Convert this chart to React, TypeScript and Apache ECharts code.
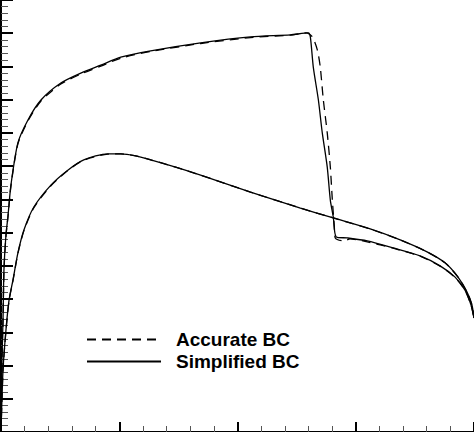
import { useEffect, useRef } from 'react';
import * as echarts from 'echarts';

const seriesNames = ['Accurate BC', 'Simplified BC'];

// upper branch, simplified BC (x, y)
const simplifiedUpper: [number, number][] = [
  [0, 0], [0.008, 2.17], [0.017, 3.37], [0.025, 4.88], [0.042, 5.93],
  [0.059, 6.5], [0.084, 7.43], [0.143, 8.7], [0.228, 9.39], [0.338, 9.99],
  [0.506, 10.5], [0.675, 10.8], [0.844, 11.04], [1.013, 11.28], [1.266, 11.47],
  [1.688, 11.71], [2.11, 11.89], [2.447, 11.95], [2.599, 12.01], [2.616, 11.89],
  [2.641, 10.98], [2.684, 9.99], [2.717, 9.0], [2.759, 7.97], [2.785, 6.98],
  [2.81, 6.47], [2.835, 5.87], [2.928, 5.84], [3.097, 5.75], [3.316, 5.54],
  [3.544, 5.3], [3.713, 5.0], [3.84, 4.66], [3.924, 4.27], [3.975, 3.82], [4.0, 3.43],
];

// upper branch, accurate BC
const accurateUpper: [number, number][] = [
  [0, 0], [0.008, 2.15], [0.017, 3.35], [0.025, 4.85], [0.042, 5.9],
  [0.059, 6.47], [0.084, 7.4], [0.143, 8.67], [0.228, 9.36], [0.338, 9.96],
  [0.506, 10.47], [0.675, 10.77], [0.844, 11.01], [1.013, 11.25], [1.266, 11.45],
  [1.688, 11.69], [2.11, 11.87], [2.447, 11.94], [2.582, 12.01], [2.633, 11.89],
  [2.675, 11.5], [2.7, 10.98], [2.726, 9.99], [2.759, 9.0], [2.785, 7.97],
  [2.802, 6.98], [2.819, 6.17], [2.827, 5.84], [2.895, 5.75], [2.954, 5.81],
  [3.097, 5.72], [3.316, 5.53], [3.544, 5.29], [3.713, 4.99], [3.84, 4.65],
  [3.924, 4.26], [3.975, 3.82], [4.0, 3.43],
];

// lower branch, simplified BC
const simplifiedLower: [number, number][] = [
  [0, 0], [0.017, 1.87], [0.042, 3.07], [0.068, 3.97], [0.101, 4.57],
  [0.143, 5.39], [0.194, 6.08], [0.278, 6.77], [0.422, 7.43], [0.565, 7.88],
  [0.7, 8.19], [0.903, 8.37], [1.013, 8.37], [1.139, 8.31], [1.266, 8.19],
  [1.477, 7.97], [1.688, 7.73], [2.11, 7.22], [2.532, 6.74], [2.81, 6.44],
  [3.122, 6.11], [3.376, 5.78], [3.603, 5.42], [3.755, 5.09], [3.865, 4.66],
  [3.941, 4.21], [3.983, 3.82], [4.0, 3.43],
];

// lower branch, accurate BC
const accurateLower: [number, number][] = [
  [0, 0], [0.017, 1.85], [0.042, 3.05], [0.068, 3.95], [0.101, 4.55],
  [0.143, 5.37], [0.194, 6.06], [0.278, 6.75], [0.422, 7.41], [0.565, 7.87],
  [0.7, 8.18], [0.903, 8.36], [1.013, 8.37], [1.139, 8.31], [1.266, 8.19],
  [1.477, 7.97], [1.688, 7.73], [2.11, 7.22], [2.532, 6.74], [2.81, 6.44],
  [3.122, 6.11], [3.376, 5.78], [3.603, 5.42], [3.755, 5.09], [3.865, 4.66],
  [3.941, 4.21], [3.983, 3.82], [4.0, 3.43],
];

const dashedStyle = { color: '#000', width: 1.3, type: [9, 6] as number[] };
const solidStyle = { color: '#000', width: 1.3, type: 'solid' };

export default function App() {
  const chartRef = useRef<HTMLDivElement>(null);

  useEffect(() => {
    if (!chartRef.current) return;
    const chart = echarts.init(chartRef.current, undefined, { renderer: 'svg' });

    const axisCommon = {
      type: 'value',
      axisLabel: { show: false },
      splitLine: { show: false },
      axisLine: { show: true, onZero: false, lineStyle: { color: '#000', width: 2 } },
    };

    chart.setOption({
      animation: false,
      backgroundColor: '#fff',
      grid: { left: 1, right: 0, top: 0, bottom: 0 },
      xAxis: {
        ...axisCommon,
        min: 0,
        max: 4,
        interval: 1,
        axisTick: { show: true, inside: true, length: 10, lineStyle: { color: '#000', width: 2 } },
        minorTick: { show: true, splitNumber: 5, length: 6, lineStyle: { color: '#555', width: 1 } },
      },
      yAxis: {
        ...axisCommon,
        min: 0,
        max: 13,
        interval: 1,
        axisTick: { show: true, inside: true, length: 12, lineStyle: { color: '#000', width: 2 } },
        minorTick: { show: true, splitNumber: 5, length: 7, lineStyle: { color: '#555', width: 1 } },
      },
      legend: {
        data: seriesNames,
        orient: 'vertical',
        left: 86,
        top: 330,
        padding: 0,
        itemWidth: 74,
        itemHeight: 14,
        itemGap: 3,
        itemStyle: { opacity: 0 },
        textStyle: {
          fontFamily: 'Liberation Sans',
          fontWeight: 'bold',
          fontSize: 19,
          lineHeight: 18,
          color: '#000',
          padding: [0, 0, 0, 10],
        },
      },
      series: [
        { name: seriesNames[0], data: accurateUpper, lineStyle: dashedStyle },
        { name: seriesNames[0], data: accurateLower, lineStyle: dashedStyle },
        { name: seriesNames[1], data: simplifiedUpper, lineStyle: solidStyle },
        { name: seriesNames[1], data: simplifiedLower, lineStyle: solidStyle },
      ].map((s) => ({
        ...s,
        type: 'line',
        symbol: 'none',
        showSymbol: false,
        smooth: 0.25,
        itemStyle: { color: '#000' },
      })),
    });

    return () => chart.dispose();
  }, []);

  return (
    <div
      ref={chartRef}
      style={{ position: 'fixed', left: 0, top: 0, width: '474px', height: '432px' }}
    />
  );
}
